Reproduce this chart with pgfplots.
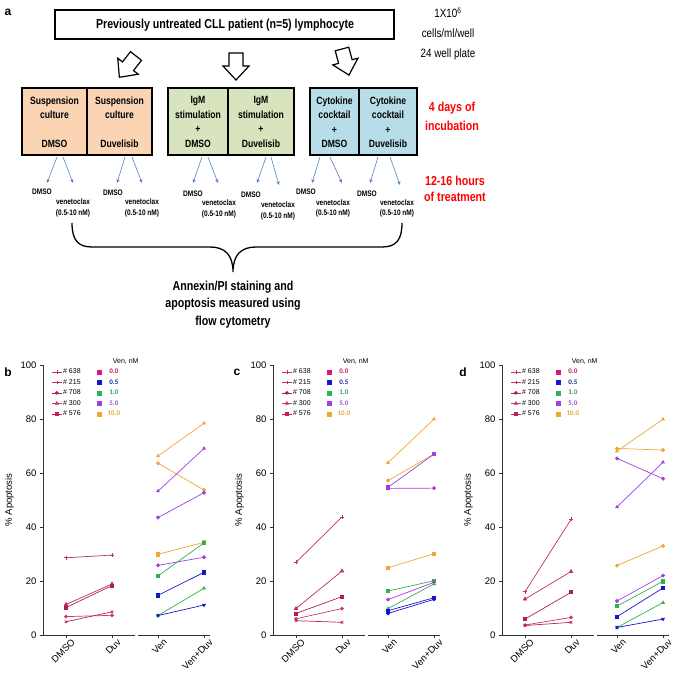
\documentclass[border=0pt]{standalone}
\usepackage{fontspec}
\setmainfont{Liberation Sans}
\newfontfamily\nf[FakeStretch=0.82]{Liberation Sans}
\newfontfamily\cf{Carlito}
\usepackage{pgfplots}
\pgfplotsset{compat=1.18}
\usetikzlibrary{arrows.meta}

\definecolor{peach}{HTML}{FBD4B4}
\definecolor{lgreen}{HTML}{D7E4BD}
\definecolor{lblue}{HTML}{B7DEE8}
\definecolor{arrblue}{HTML}{4F81BD}
\definecolor{pk1}{HTML}{B8336A}
\definecolor{pk2}{HTML}{C02A6E}
\definecolor{pk3}{HTML}{B01E5A}
\definecolor{pk4}{HTML}{C43A72}
\definecolor{pk5}{HTML}{C21F5E}
\definecolor{cO}{HTML}{F0A535}
\definecolor{cP}{HTML}{A040E0}
\definecolor{cG}{HTML}{30B050}
\definecolor{cB}{HTML}{1515D0}
\definecolor{cM}{HTML}{E0157A}
\definecolor{t0}{HTML}{C2185B}
\definecolor{t05}{HTML}{2020A0}
\definecolor{t1}{HTML}{2E9E5E}
\definecolor{t5}{HTML}{9B50D0}
\definecolor{t10}{HTML}{E8A838}

\pgfplotsset{
  d/.style={forget plot, line width=0.7pt, mark size=1.6pt},
  pt1/.style={d, color=pk1, mark=+, mark size=2pt},
  pt2/.style={d, color=pk2, mark=triangle*, mark size=1.9pt},
  pt3/.style={d, color=pk3, mark=square*, mark size=1.5pt},
  pt4/.style={d, color=pk4, mark=*, mark size=1.5pt},
  pt5/.style={d, color=pk5, mark=x, mark size=1.8pt},
  panel/.style={
    scale only axis, width=167pt, height=270pt,
    xmin=-0.5, xmax=3.13, ymin=0, ymax=100,
    axis y line*=left, axis x line*=bottom,
    x axis line style={draw=none},
    y axis line style={line width=0.8pt, black!80},
    xtick={0,1,2,3}, xticklabels={DMSO,Duv,Ven,Ven+Duv},
    ytick={0,20,40,60,80,100},
    tick align=outside, major tick length=3pt,
    tick style={black!80, line width=0.6pt},
    clip=false,
    ticklabel style={font=\fontsize{9.5}{10}\selectfont},
    /pgf/number format/assume math mode=true,
    xticklabel style={rotate=45, anchor=north east, inner sep=0.5pt, xshift=4pt, yshift=-3pt},
    ylabel={\% Apoptosis},
    ylabel style={font=\fontsize{9.5}{10}\selectfont},
    legend columns=2,
    legend cell align=left,
    legend style={at={(0.05,1.03)}, anchor=north west, draw=none, fill=none,
      inner sep=0pt, row sep=2pt,
      font=\fontsize{7}{7}\selectfont,
      nodes={inner sep=1pt, text height=5pt, text depth=1.5pt},
      /tikz/every even column/.append style={column sep=15pt}},
    legend image code/.code={\draw[mark repeat=2,mark phase=2,##1] plot coordinates {(0pt,0pt) (5pt,0pt) (10pt,0pt)};},
  }
}

\newcommand\sq[1]{\addlegendimage{legend image code/.code={\fill[#1] (0pt,-2pt) rectangle (4pt,2pt); \path[draw=none,fill=none] (0pt,0pt) -- (9pt,0pt);}}}
\newcommand\num[2]{\addlegendentry{\makebox[14pt][c]{\textcolor{#1}{\cf\bfseries #2}}}}
\newcommand\panellegend{%
  \addlegendimage{empty legend}\addlegendentry{}
  \addlegendimage{empty legend}\addlegendentry{\hspace{6pt}Ven, nM}
  \addlegendimage{pk1, line width=0.6pt, mark=+, mark size=1.8pt}\addlegendentry{\# 638}
  \sq{cM}\num{t0}{0.0}
  \addlegendimage{pk2, line width=0.6pt, mark=+, mark size=1.8pt}\addlegendentry{\# 215}
  \sq{cB}\num{t05}{0.5}
  \addlegendimage{pk3, line width=0.6pt, mark=*, mark size=1.5pt}\addlegendentry{\# 708}
  \sq{cG}\num{t1}{1.0}
  \addlegendimage{pk4, line width=0.6pt, mark=triangle*, mark size=1.8pt}\addlegendentry{\# 300}
  \sq{cP}\num{t5}{5.0}
  \addlegendimage{pk5, line width=0.6pt, mark=square*, mark size=1.5pt}\addlegendentry{\# 576}
  \sq{cO}\num{t10}{10.0}
}
\newcommand\brokenx{%
  \addplot[forget plot, black!80, line width=0.8pt, mark=none] coordinates {(-0.5,0) (1.5,0)};
  \addplot[forget plot, black!80, line width=0.8pt, mark=none] coordinates {(1.57,0) (3.13,0)};
}
\newcommand\harrow{(-7,0) -- (7,0) -- (7,13) -- (13,13) -- (0,27) -- (-13,13) -- (-7,13) -- cycle}

\begin{document}
\begin{tikzpicture}
\path[use as bounding box] (0pt,0pt) rectangle (685pt,-676pt);

\begin{scope}[x=1pt,y=-1pt]
  \node[font=\bfseries\fontsize{12}{12}\selectfont] at (8,12) {a};
  \draw[line width=1.2pt] (55,10) rectangle (394,39);
  \node[font=\nf\bfseries\fontsize{13}{13}\selectfont] at (225,25) {Previously untreated CLL patient (n=5) lymphocyte};
  \node[font=\nf\fontsize{12}{12}\selectfont] at (448,13) {1X10\textsuperscript{6}};
  \node[font=\nf\fontsize{12}{12}\selectfont] at (448,33) {cells/ml/well};
  \node[font=\nf\fontsize{12}{12}\selectfont] at (448,54) {24 well plate};
  % hollow arrows
  \draw[line width=1.2pt, fill=white, shift={(236,53)}] \harrow;
  \draw[line width=1.2pt, fill=white, shift={(136,56)}, rotate=-38] \harrow;
  \draw[line width=1.2pt, fill=white, shift={(342,49)}, rotate=15] \harrow;
  % boxes
  \draw[line width=1.2pt, fill=peach] (22,88) rectangle (152,155);
  \draw[line width=1.2pt] (87,88) -- (87,155);
  \draw[line width=1.2pt, fill=lgreen] (168,88) rectangle (294,155);
  \draw[line width=1.2pt] (228,88) -- (228,155);
  \draw[line width=1.2pt, fill=lblue] (310,88) rectangle (359,155);
  \draw[line width=1.2pt, fill=lblue] (359,88) rectangle (417,155);
  \begin{scope}[every node/.style={font=\nf\bfseries\fontsize{10.5}{14.5}\selectfont, align=center}]
    \node at (54.5,122) {Suspension\\culture\\~\\DMSO};
    \node at (119.5,122) {Suspension\\culture\\~\\Duvelisib};
    \node at (198,122) {IgM\\stimulation\\+\\DMSO};
    \node at (261,122) {IgM\\stimulation\\+\\Duvelisib};
    \node at (334.5,122) {Cytokine\\cocktail\\+\\DMSO};
    \node at (388,122) {Cytokine\\cocktail\\+\\Duvelisib};
  \end{scope}
  \begin{scope}[every node/.style={font=\nf\bfseries\fontsize{13}{13}\selectfont, text=red}]
    \node at (452,108) {4 days of};
    \node at (452,126) {incubation};
    \node at (455,181) {12-16 hours};
    \node at (455,197) {of treatment};
  \end{scope}
  % small arrows
  \begin{scope}[arrblue, line width=0.6pt, -{Stealth[length=4pt,width=3.5pt]}]
    \draw (57,157) -- (47,183);  \draw (63,157) -- (73,183);
    \draw (125,157) -- (117,183); \draw (132,157) -- (142,183);
    \draw (202,157) -- (193,183); \draw (208,157) -- (218,183);
    \draw (266,157) -- (257,183); \draw (271,157) -- (279,185);
    \draw (320,157) -- (312,183); \draw (330,157) -- (342,183);
    \draw (378,157) -- (370,183); \draw (390,157) -- (400,185);
  \end{scope}
  \begin{scope}[every node/.style={font=\nf\bfseries\fontsize{8}{8}\selectfont, inner sep=0pt}]
    \node at (42,192) {DMSO};  \node at (73,202) {venetoclax}; \node at (73,213) {(0.5-10 nM)};
    \node at (113,193) {DMSO}; \node at (142,202) {venetoclax}; \node at (142,213) {(0.5-10 nM)};
    \node at (193,194) {DMSO}; \node at (219,203) {venetoclax}; \node at (219,214) {(0.5-10 nM)};
    \node at (251,195) {DMSO}; \node at (278,205) {venetoclax}; \node at (278,216) {(0.5-10 nM)};
    \node at (306,192) {DMSO}; \node at (333,203) {venetoclax}; \node at (333,213) {(0.5-10 nM)};
    \node at (367,194) {DMSO}; \node at (397,203) {venetoclax}; \node at (397,213) {(0.5-10 nM)};
  \end{scope}
  % brace
  \draw[line width=1.3pt] (72,223) .. controls (72,240) and (78,247) .. (92,247) -- (210,247)
     .. controls (225,247) and (233,255) .. (233,272)
     .. controls (233,255) and (241,247) .. (256,247) -- (382,247)
     .. controls (396,247) and (402,240) .. (402,223);
  \begin{scope}[every node/.style={font=\nf\bfseries\fontsize{13}{13}\selectfont}]
    \node at (233,287) {Annexin/PI staining and};
    \node at (233,304) {apoptosis measured using};
    \node at (233,322) {flow cytometry};
  \end{scope}
  \node[font=\bfseries\fontsize{12}{12}\selectfont] at (8,372) {b};
  \node[font=\bfseries\fontsize{12}{12}\selectfont] at (237,372) {c};
  \node[font=\bfseries\fontsize{12}{12}\selectfont] at (463,372) {d};
\end{scope}

% ---------- panel b ----------
\begin{axis}[panel, at={(43pt,-635pt)}, anchor=south west]
  \brokenx
  \addplot[pt1] coordinates {(0,28.6) (1,29.6)};
  \addplot[pt2] coordinates {(0,11.3) (1,18.9)};
  \addplot[pt3] coordinates {(0,10.2) (1,18.3)};
  \addplot[pt4] coordinates {(0,6.8) (1,7.3)};
  \addplot[pt5] coordinates {(0,4.9) (1,8.6)};
  \addplot[d, cO, mark=triangle*] coordinates {(2,66.3) (3,78.4)};
  \addplot[d, cO, mark=*] coordinates {(2,63.6) (3,53.7)};
  \addplot[d, cP, mark=triangle*] coordinates {(2,53.3) (3,69.1)};
  \addplot[d, cP, mark=*] coordinates {(2,43.5) (3,52.7)};
  \addplot[d, cO, mark=square*] coordinates {(2,29.9) (3,34.3)};
  \addplot[d, cP, mark=*] coordinates {(2,25.8) (3,28.8)};
  \addplot[d, cG, mark=square*] coordinates {(2,21.9) (3,34.1)};
  \addplot[d, cB, mark=square*] coordinates {(2,14.7) (3,23.2)};
  \addplot[d, cG, mark=triangle*] coordinates {(2,7.2) (3,17.3)};
  \addplot[d, cB, mark=triangle*, mark options={rotate=180}] coordinates {(2,7.2) (3,11.1)};
  \panellegend
\end{axis}

% ---------- panel c ----------
\begin{axis}[panel, at={(273pt,-635pt)}, anchor=south west]
  \brokenx
  \addplot[pt1] coordinates {(0,26.9) (1,43.7)};
  \addplot[pt2] coordinates {(0,9.8) (1,23.7)};
  \addplot[pt3] coordinates {(0,8.0) (1,14.2)};
  \addplot[pt4] coordinates {(0,6.0) (1,9.8)};
  \addplot[pt5] coordinates {(0,5.3) (1,4.7)};
  \addplot[d, cO, mark=triangle*] coordinates {(2,63.8) (3,80.0)};
  \addplot[d, cO, mark=*] coordinates {(2,57.2) (3,67.0)};
  \addplot[d, cP, mark=square*] coordinates {(2,54.7) (3,67.0)};
  \addplot[d, cP!70!magenta, mark=*] coordinates {(2,54.3) (3,54.4)};
  \addplot[d, cO, mark=square*] coordinates {(2,24.9) (3,30.1)};
  \addplot[d, cG, mark=square*] coordinates {(2,16.3) (3,20.1)};
  \addplot[d, cP!70!magenta, mark=*] coordinates {(2,13.1) (3,19.5)};
  \addplot[d, cG, mark=triangle*] coordinates {(2,9.8) (3,18.9)};
  \addplot[d, cB, mark=square*] coordinates {(2,9.0) (3,13.8)};
  \addplot[d, cB, mark=*] coordinates {(2,8.0) (3,13.2)};
  \panellegend
\end{axis}

% ---------- panel d ----------
\begin{axis}[panel, at={(502pt,-635pt)}, anchor=south west]
  \brokenx
  \addplot[pt1] coordinates {(0,16.0) (1,42.8)};
  \addplot[pt2] coordinates {(0,13.3) (1,23.5)};
  \addplot[pt3] coordinates {(0,5.9) (1,15.8)};
  \addplot[pt4] coordinates {(0,3.7) (1,6.5)};
  \addplot[pt5] coordinates {(0,3.5) (1,4.7)};
  \addplot[d, cO, mark=triangle*] coordinates {(2,68.1) (3,79.9)};
  \addplot[d, cO, mark=*] coordinates {(2,69.1) (3,68.5)};
  \addplot[d, cP, mark=*] coordinates {(2,65.4) (3,57.9)};
  \addplot[d, cP, mark=triangle*] coordinates {(2,47.4) (3,64.0)};
  \addplot[d, cO, mark=*] coordinates {(2,25.7) (3,33.0)};
  \addplot[d, cP, mark=*] coordinates {(2,12.6) (3,22.0)};
  \addplot[d, cG, mark=square*] coordinates {(2,10.7) (3,19.9)};
  \addplot[d, cB, mark=square*] coordinates {(2,6.8) (3,17.4)};
  \addplot[d, cG, mark=triangle*] coordinates {(2,2.8) (3,12.0)};
  \addplot[d, cB, mark=triangle*, mark options={rotate=180}] coordinates {(2,2.8) (3,5.9)};
  \panellegend
\end{axis}
\end{tikzpicture}
\end{document}
